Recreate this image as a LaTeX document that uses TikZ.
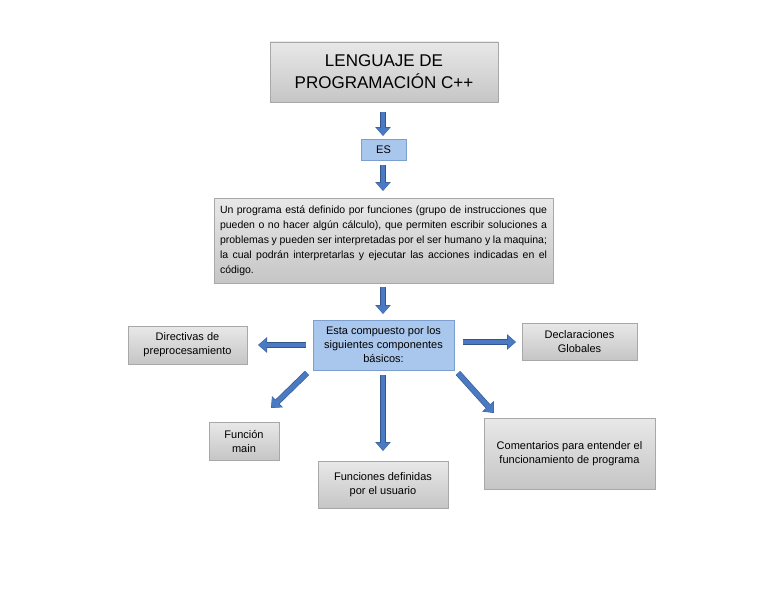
\documentclass[tikz,border=0pt]{standalone}
\usepackage{fontspec}
\setmainfont{Liberation Sans}
\usetikzlibrary{arrows.meta}
\definecolor{gbox}{HTML}{D0D0D0}
\definecolor{gedge}{HTML}{A8A8A8}
\definecolor{bbox}{HTML}{A9C6EC}
\definecolor{bedge}{HTML}{7C9FD0}
\definecolor{arr}{HTML}{4A7AC4}
\tikzset{x=1pt,y=-1pt,
 gray box/.style={draw=gedge,top color=gray!18,bottom color=gray!45,inner sep=0pt,align=center,font=\fontsize{11}{14}\selectfont},
 blue box/.style={draw=bedge,fill=bbox,inner sep=0pt,align=center,font=\fontsize{11}{14}\selectfont},
 blk/.style={draw=arr!70!black,line width=0.6pt,fill=arr},
}
\newcommand{\barrow}[4]{% x1 y1 x2 y2 : block arrow
 \begin{scope}
 \path (#1,#2) coordinate (s) (#3,#4) coordinate (e);
 \draw[line width=6pt,arr!70!black,-{Triangle[length=9pt,width=15pt]}] (s) -- (e);
 \draw[line width=4.8pt,arr,-{Triangle[length=8pt,width=13.4pt]},shorten >=0.5pt] (s) -- (e);
 \end{scope}}
\begin{document}
\begin{tikzpicture}
\useasboundingbox (0,0) rectangle (768,594);
\fill[white] (0,0) rectangle (768,594);
\node[gray box,minimum width=228pt,minimum height=60pt,font=\fontsize{17}{22}\selectfont] (t) at (384,72) {LENGUAJE DE\\PROGRAMACIÓN C++};
\node[blue box,minimum width=45pt,minimum height=21pt] (es) at (383.5,149.5) {ES};
\node[gray box,minimum width=339pt,minimum height=85pt,text width=327pt,align=justify,font=\fontsize{10.5}{15}\selectfont] (p) at (383.5,240.5) {Un programa está definido por funciones (grupo de instrucciones que pueden o no hacer algún cálculo), que permiten escribir soluciones a problemas y pueden ser interpretadas por el ser humano y la maquina; la cual podrán interpretarlas y ejecutar las acciones indicadas en el código.};
\node[blue box,minimum width=141pt,minimum height=50pt] (c) at (383.5,345) {Esta compuesto por los\\siguientes componentes\\básicos:};
\node[gray box,minimum width=119pt,minimum height=38pt] (d) at (187.5,345) {Directivas de\\preprocesamiento};
\node[gray box,minimum width=115pt,minimum height=37pt] (g) at (579.5,341.5) {Declaraciones\\Globales};
\node[gray box,minimum width=70pt,minimum height=38pt] (m) at (244,441) {Función\\main};
\node[gray box,minimum width=130pt,minimum height=47pt] (f) at (383,484.5) {Funciones definidas\\por el usuario};
\node[gray box,minimum width=171pt,minimum height=71pt] (k) at (569.5,453.5) {Comentarios para entender el\\funcionamiento de programa};
\barrow{383}{112}{383}{136}
\barrow{383}{165}{383}{191}
\barrow{383}{287}{383}{314}
\barrow{306}{345}{258}{345}
\barrow{463}{342}{516}{342}
\barrow{307}{373}{271}{408}
\barrow{383}{375}{383}{451}
\barrow{458}{373}{494}{413}
\end{tikzpicture}
\end{document}
